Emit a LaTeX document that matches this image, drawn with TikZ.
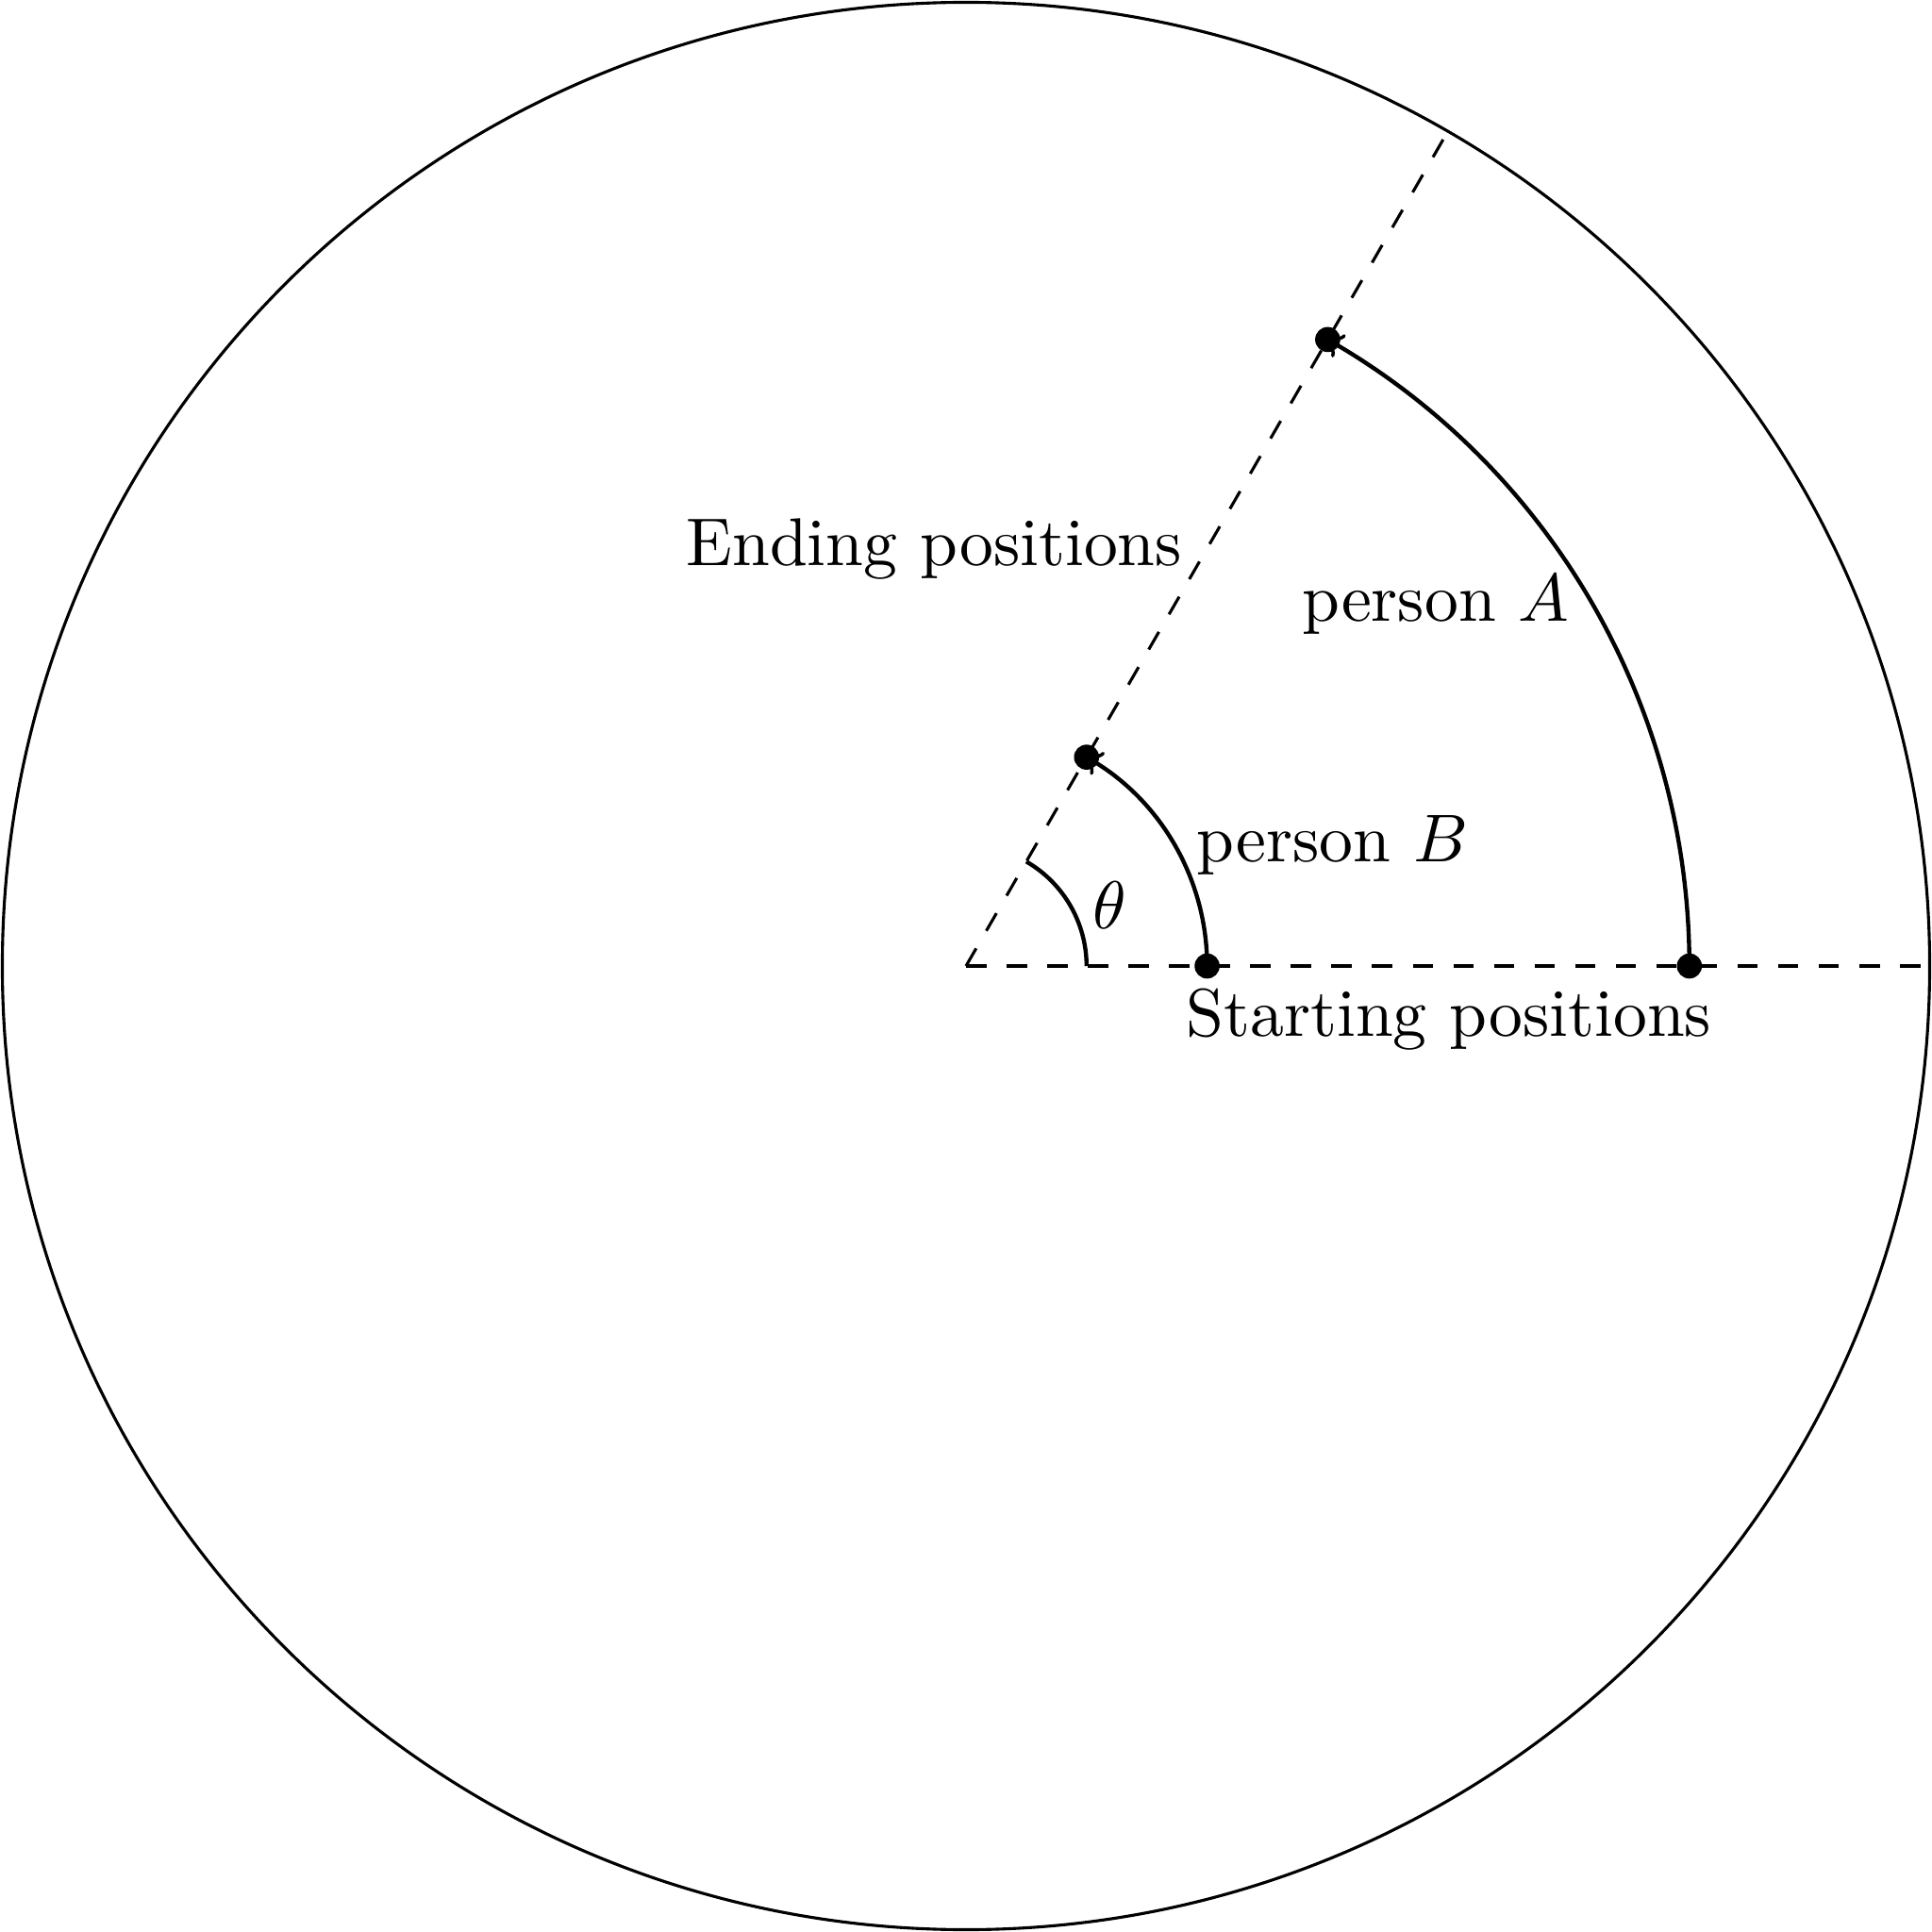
\documentclass[tikz,border=0pt]{standalone}
\usetikzlibrary{calc}
\begin{document}
\begin{tikzpicture}[
  dot/.style={circle,fill=black,inner sep=0pt,minimum size=0.15cm},
  ray/.style={dash pattern=on 3.45pt off 3.45pt,line width=0.5pt},
  walk/.style={->,line width=0.7pt},
  lbl/.style={anchor=base,inner sep=0pt,scale=1.149}
]
\def\R{5.76}
\useasboundingbox (-5.769,-5.769) rectangle (5.769,5.769);
\coordinate (O) at (0,0);
\coordinate (S) at (0:\R);
\coordinate (E) at (60:\R);
\coordinate (B0) at (0:1.44);
\coordinate (B1) at (60:1.44);
\coordinate (A0) at (0:4.32);
\coordinate (A1) at (60:4.32);
\coordinate (T0) at (0:0.72);
\draw[line width=0.5pt] (O) circle[radius=5.755];
\draw[ray] (O) -- (S);
\draw[ray] (O) -- (E);
\draw[line width=0.7pt] (T0) arc[start angle=0,end angle=60,radius=0.72];
\draw[walk] (B0) arc[start angle=0,end angle=60,radius=1.44];
\draw[walk] (A0) arc[start angle=0,end angle=60,radius=4.32];
\node[dot] (b0) at (B0) {};
\node[dot] (b1) at (B1) {};
\node[dot] (a0) at (A0) {};
\node[dot] (a1) at (A1) {};
\node[lbl] (st) at (2.884,-0.417) {Starting positions};
\node[lbl] (en) at (-0.19,2.39) {Ending positions};
\node[lbl] (pa) at (2.805,2.06) {person $A$};
\node[lbl] (pb) at (2.19,0.625) {person $B$};
\node[lbl] (th) at (0.86,0.22) {$\theta$};
\end{tikzpicture}
\end{document}
